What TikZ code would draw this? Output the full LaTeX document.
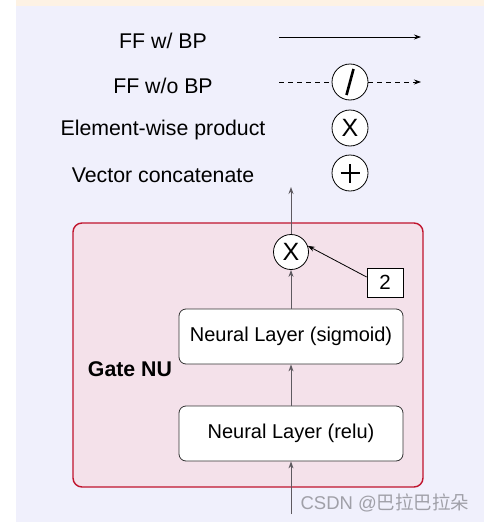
\documentclass[tikz,border=0pt]{standalone}
\usepackage{fontspec}
\setmainfont{Liberation Sans}
\newfontfamily\cjkfont{Noto Sans CJK SC}
\usetikzlibrary{arrows.meta}
\definecolor{bglav}{HTML}{F0F0FC}
\definecolor{bgorange}{HTML}{FDF2E4}
\definecolor{gatefill}{HTML}{F4E1EA}
\definecolor{gateborder}{HTML}{C0142E}
\definecolor{flowgray}{HTML}{5E5A60}
\definecolor{wmgray}{HTML}{A0A0A8}
\tikzset{
  legendtext/.style={font=\fontsize{21.3}{24}\selectfont, anchor=center},
  opcircle/.style={circle, draw=black, fill=white, line width=0.8pt, minimum size=36pt, inner sep=0pt, font=\fontsize{25}{26}\selectfont},
  layerbox/.style={rectangle, rounded corners=7pt, draw=black!80, fill=white, line width=0.8pt, minimum width=224pt, minimum height=55pt, font=\fontsize{20}{24}\selectfont},
  numbox/.style={rectangle, draw=black, fill=white, line width=0.8pt, minimum width=36pt, minimum height=29pt, inner sep=0pt, font=\fontsize{20.5}{24}\selectfont},
  tip/.style={-{Stealth[length=7pt,width=5pt]}},
  flow/.style={tip, draw=flowgray, line width=1pt},
}
\begin{document}
\begin{tikzpicture}[x=1pt,y=-1pt]
\useasboundingbox (0,0) rectangle (486,522);
\fill[white] (0,0) rectangle (486,522);
\fill[bglav] (16,0) rectangle (484,522);
\fill[bgorange] (16,0) rectangle (484,6);
% legend
\node[legendtext] (l1) at (163,41) {FF w/ BP};
\node[legendtext] (l2) at (163,86) {FF w/o BP};
\node[legendtext] (l3) at (163,130) {Element-wise product};
\node[legendtext] (l4) at (163,175) {Vector concatenate};
\coordinate (a1s) at (279,37);
\coordinate (a1e) at (421,37);
\draw[tip, line width=0.8pt] (a1s) -- (a1e);
\node[opcircle] (div) at (350,82) {};
\draw[line width=2.6pt] ([shift={(-3.5,13)}]div.center) -- ([shift={(3.5,-13)}]div.center);
\coordinate (a2s) at (279,82);
\coordinate (a2e) at (421,82);
\draw[dashed, line width=0.8pt, dash pattern=on 5pt off 4pt] (a2s) -- (div.west);
\draw[tip, dashed, line width=0.8pt, dash pattern=on 5pt off 4pt] (div.east) -- (a2e);
\node[opcircle] (mul) at (350,128) {X};
\node[opcircle] (cat) at (350,173) {};
\draw[line width=2pt] ([xshift=-9.5pt]cat.center) -- ([xshift=9.5pt]cat.center);
\draw[line width=2pt] ([yshift=-9.5pt]cat.center) -- ([yshift=9.5pt]cat.center);
% gate box
\node[draw=gateborder, fill=gatefill, line width=1.4pt, rounded corners=9pt, minimum width=350pt, minimum height=264pt, inner sep=0pt] (gate) at (248,355) {};
\node[font=\bfseries\fontsize{21.3}{24}\selectfont] (gatelabel) at (130,369) {Gate NU};
\node[layerbox] (relu) at (291,433.5) {Neural Layer (relu)};
\node[layerbox] (sig) at (291,336.5) {Neural Layer (sigmoid)};
\node[opcircle, minimum size=35pt] (x) at (291,252) {X};
\node[numbox] (two) at (385,282.5) {2};
\coordinate (in) at (291,514);
\coordinate (out) at (291,187);
\draw[flow] (in) -- (relu.south);
\draw[flow] (relu.north) -- (sig.south);
\draw[flow] (sig.north) -- (x.south);
\draw[flow] (x.north) -- (out);
\draw[tip, line width=0.8pt] (two.north west |- 0,277) -- (x.20);
% watermark
\node[text=wmgray, font=\fontsize{18.5}{20}\selectfont] (wm) at (385,503) {CSDN @{\cjkfont 巴拉巴拉朵}};
\end{tikzpicture}
\end{document}
